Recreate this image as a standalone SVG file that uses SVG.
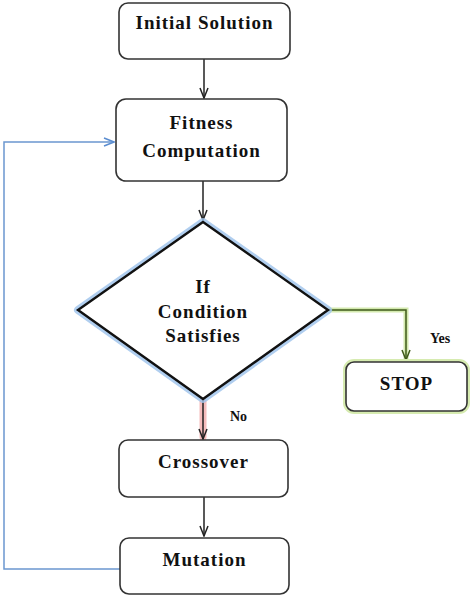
<svg xmlns="http://www.w3.org/2000/svg" width="474" height="596" viewBox="0 0 474 596">
<defs>
<style>
.box{fill:#fff;stroke:#333;stroke-width:1.6}
.t{font-family:"Liberation Serif","Times New Roman",serif;font-weight:bold;font-size:19px;letter-spacing:1px;fill:#111;text-anchor:middle}
.s{font-family:"Liberation Serif","Times New Roman",serif;font-weight:bold;font-size:14px;fill:#111}
.ln{fill:none;stroke:#222;stroke-width:1.5}
</style>
<marker id="ah" viewBox="0 0 12 10" refX="11" refY="5" markerWidth="12" markerHeight="10" markerUnits="userSpaceOnUse" orient="auto">
<path d="M1,1 L11,5 L1,9" fill="none" stroke="#222" stroke-width="1.5"/>
</marker>
<marker id="ahg" viewBox="0 0 12 10" refX="11" refY="5" markerWidth="12" markerHeight="10" markerUnits="userSpaceOnUse" orient="auto">
<path d="M1,1 L11,5 L1,9" fill="none" stroke="#3f5a1a" stroke-width="1.5"/>
</marker>
<marker id="ahb" viewBox="0 0 12 10" refX="11" refY="5" markerWidth="12" markerHeight="10" markerUnits="userSpaceOnUse" orient="auto">
<path d="M1,1 L11,5 L1,9" fill="none" stroke="#5b8dd0" stroke-width="1.5"/>
</marker>
</defs>

<g id="connectors">
<line class="ln" x1="204" y1="59" x2="204" y2="98" marker-end="url(#ah)"/>
<line class="ln" x1="203" y1="181" x2="203" y2="220" marker-end="url(#ah)"/>
<!-- No branch with red glow -->
<line x1="203" y1="401" x2="203" y2="437" stroke="#ef8f8f" stroke-width="7" stroke-opacity="0.6" stroke-linecap="round"/>
<line class="ln" x1="203" y1="400" x2="203" y2="439" marker-end="url(#ah)"/>
<!-- Yes branch with green glow -->
<path d="M328,310 H406 V359" fill="none" stroke="#c8e49a" stroke-width="5" stroke-opacity="0.8"/>
<path d="M328,310 H406 V360" fill="none" stroke="#3f5a1a" stroke-width="1.5" marker-end="url(#ahg)"/>
<line class="ln" x1="204" y1="497" x2="204" y2="536" marker-end="url(#ah)"/>
<!-- Loop back -->
<path d="M120,569 H4 V142 H114" fill="none" stroke="#6b97d0" stroke-width="1.5" marker-end="url(#ahb)"/>
<text class="s" x="430" y="343">Yes</text>
<text class="s" x="230" y="421">No</text>
</g>

<g id="initial">
<rect class="box" x="119" y="3" width="171" height="56" rx="9"/>
<text class="t" x="204.5" y="29">Initial Solution</text>
</g>

<g id="fitness">
<rect class="box" x="116" y="99" width="171" height="82" rx="10"/>
<text class="t" x="201.5" y="129">Fitness</text>
<text class="t" x="201.5" y="157">Computation</text>
</g>

<g id="condition">
<polygon points="203,222 328,310 203,399 78,310" fill="none" stroke="#a2c6ec" stroke-width="8" stroke-linejoin="round" stroke-opacity="0.85"/>
<polygon points="203,222 328,310 203,399 78,310" fill="#fff" stroke="#111" stroke-width="2.4" stroke-linejoin="miter"/>
<text class="t" x="203" y="293">If</text>
<text class="t" x="203" y="318">Condition</text>
<text class="t" x="203" y="342">Satisfies</text>
</g>

<g id="stop">
<rect x="346" y="362" width="121" height="49" rx="8" fill="none" stroke="#d6ebb0" stroke-width="6"/>
<rect class="box" x="346" y="362" width="121" height="49" rx="8"/>
<text class="t" x="406.5" y="390">STOP</text>
</g>

<g id="crossover">
<rect class="box" x="119" y="440" width="169" height="57" rx="9"/>
<text class="t" x="203.5" y="468">Crossover</text>
</g>

<g id="mutation">
<rect class="box" x="120" y="538" width="169" height="56" rx="9"/>
<text class="t" x="204.5" y="566">Mutation</text>
</g>
</svg>
